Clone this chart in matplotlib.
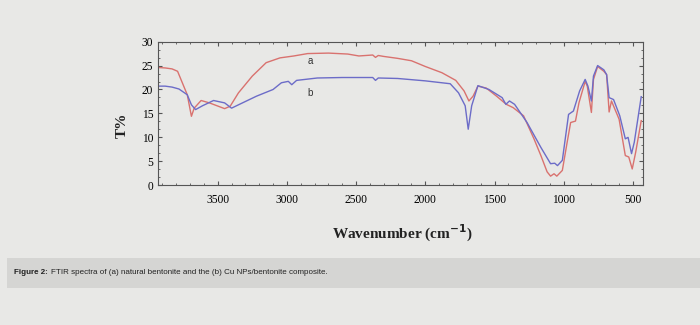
import matplotlib
matplotlib.use("Agg")
import matplotlib.pyplot as plt
from matplotlib.ticker import MultipleLocator, AutoMinorLocator
from matplotlib.patches import Rectangle

# ---- data ----
wn_a = [4000, 3880, 3830, 3790, 3760, 3720, 3690, 3670, 3620, 3560, 3450, 3410, 3350,
        3250, 3150, 3050, 2950, 2850, 2700, 2560, 2480, 2380, 2360, 2340, 2300, 2200,
        2100, 2000, 1880, 1780, 1720, 1685, 1655, 1620, 1560, 1485, 1415, 1365, 1290,
        1215, 1165, 1120, 1095, 1070, 1050, 1010, 975, 950, 915, 890, 845, 830, 800,
        785, 755, 710, 690, 672, 655, 600, 555, 530, 505, 480, 440]
t_a = [24.7, 24.5, 24.3, 23.8, 21.7, 18.9, 14.4, 16.1, 17.7, 17.2, 16.0, 16.5, 19.3,
       22.8, 25.6, 26.6, 27.0, 27.5, 27.6, 27.4, 27.0, 27.2, 26.7, 27.1, 26.9, 26.5,
       26.0, 24.8, 23.5, 21.9, 19.7, 17.6, 18.6, 20.7, 20.3, 18.6, 16.9, 16.2, 14.5,
       9.7, 6.2, 2.8, 1.9, 2.4, 1.9, 3.1, 9.0, 13.1, 13.4, 17.2, 21.7, 20.7, 15.2,
       22.1, 24.8, 23.8, 23.1, 15.3, 17.6, 13.8, 6.2, 5.9, 3.4, 6.9, 13.5]

wn_b = [4000, 3880, 3830, 3780, 3720, 3690, 3660, 3610, 3530, 3450, 3400, 3350, 3220,
        3100, 3040, 2990, 2965, 2930, 2780, 2600, 2380, 2360, 2340, 2200, 2000, 1820,
        1760, 1712, 1690, 1665, 1620, 1540, 1445, 1418, 1392, 1355, 1265, 1165, 1095,
        1065, 1045, 1010, 965, 930, 885, 845, 825, 800, 785, 755, 710, 690, 672, 640,
        595, 555, 535, 510, 490, 440]
t_b = [20.7, 20.7, 20.5, 20.1, 18.9, 16.8, 15.8, 16.6, 17.7, 17.2, 16.1, 16.8, 18.6,
       20.0, 21.4, 21.7, 21.0, 21.9, 22.4, 22.5, 22.5, 21.9, 22.4, 22.3, 21.8, 21.2,
       19.3, 16.6, 11.7, 16.6, 20.8, 20.0, 18.3, 16.9, 17.6, 16.9, 13.1, 7.9, 4.5,
       4.6, 4.1, 5.2, 14.8, 15.5, 19.7, 22.1, 20.7, 17.6, 22.8, 25.0, 24.1, 23.1,
       18.3, 17.9, 14.5, 9.7, 10.0, 6.6, 9.0, 18.5]

labels = ["a", "b"]
label_pos = [(2830, 26.0), (2830, 19.2)]

x_ticks = [3500, 3000, 2500, 2000, 1500, 1000, 500]
y_ticks = [0, 5, 10, 15, 20, 25, 30]

# ---- figure ----
bg = "#e8e8e6"
fig = plt.figure(figsize=(7, 3.25), dpi=100, facecolor=bg)
ax = fig.add_axes([0.226, 0.430, 0.693, 0.442])
ax.set_facecolor(bg)

ax.plot(wn_a, t_a, color="#d9726f", lw=1.0)
ax.plot(wn_b, t_b, color="#6c6cc8", lw=1.0)

for lab, (xx, yy) in zip(labels, label_pos):
    ax.text(xx, yy, lab, fontsize=7, family="Liberation Sans", color="#333333",
            ha="center", va="center")

ax.set_xlim(3930, 425)
ax.set_ylim(0, 30)
ax.set_xticks(x_ticks)
ax.set_yticks(y_ticks)
ax.xaxis.set_minor_locator(MultipleLocator(100))
ax.yaxis.set_minor_locator(AutoMinorLocator(3))
ax.tick_params(which="both", direction="in", top=True, right=True,
               labelsize=8.3, color="#555555")
ax.tick_params(axis="x", which="major", pad=6)
ax.tick_params(which="major", length=3)
ax.tick_params(which="minor", length=1.5)
for lab in ax.get_xticklabels() + ax.get_yticklabels():
    lab.set_family("Liberation Serif")
for s in ax.spines.values():
    s.set_color("#555555")
    s.set_linewidth(0.8)

fig.text(0.174, 0.615, "T%", rotation=90, fontsize=11, fontweight="bold",
         family="Liberation Serif", ha="center", va="center", color="#222222")
fig.text(0.575, 0.283, r"Wavenumber (cm$^{\mathbf{-1}}$)", fontsize=11,
         fontweight="bold", family="Liberation Serif", ha="center", va="center",
         color="#222222")

# caption band
fig.patches.append(Rectangle((0.010, 0.114), 0.990, 0.092, transform=fig.transFigure,
                             facecolor="#d5d5d3", edgecolor="none", zorder=0))
t1 = fig.text(0.020, 0.163, "Figure 2:", fontsize=5.8, fontweight="bold",
              family="Liberation Sans", va="center", color="#222222")
fig.add_artist(matplotlib.text.Annotation(
    "FTIR spectra of (a) natural bentonite and the (b) Cu NPs/bentonite composite.",
    xy=(1, 0.5), xycoords=t1, xytext=(2.5, 0), textcoords="offset points",
    va="center", fontsize=5.8, family="Liberation Sans", color="#222222"))

fig.savefig("out.png", dpi=100, facecolor=bg)
